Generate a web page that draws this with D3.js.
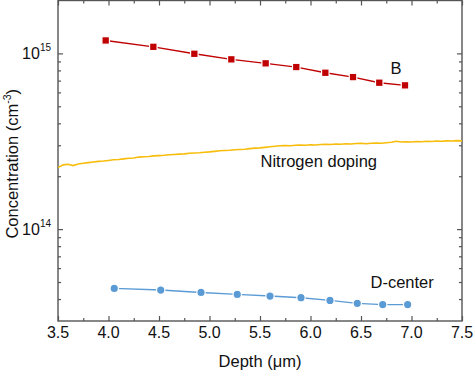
<!DOCTYPE html>
<html>
<head>
<meta charset="utf-8">
<script src="https://cdn.jsdelivr.net/npm/d3@7"></script>
<style>
  html, body { margin: 0; padding: 0; background: #fff; }
  svg { display: block; }
  text { font-family: "Liberation Sans", Arial, sans-serif; fill: #111; }
</style>
</head>
<body>
<svg id="chart" width="474" height="372"></svg>
<script>
// ---- data ----
const bDepth = [3.972, 4.444, 4.85, 5.216, 5.556, 5.859, 6.147, 6.421, 6.681, 6.936];
const bConc  = [1.185e15, 1.09e15, 9.95e14, 9.25e14, 8.78e14, 8.36e14, 7.76e14, 7.33e14, 6.81e14, 6.58e14];

const dDepth = [4.057, 4.517, 4.916, 5.275, 5.599, 5.906, 6.193, 6.463, 6.715, 6.962];
const dConc  = [4.6e13, 4.5e13, 4.36e13, 4.25e13, 4.16e13, 4.07e13, 3.93e13, 3.78e13, 3.72e13, 3.72e13];

const nDepth = [3.50,3.55,3.60,3.65,3.70,3.75,3.80,3.85,3.90,3.95,4.00,4.05,4.10,4.15,4.20,4.25,4.30,4.35,4.40,4.45,
                4.50,4.55,4.60,4.65,4.70,4.75,4.80,4.85,4.90,4.95,5.00,5.05,5.10,5.15,5.20,5.25,5.30,5.35,5.40,5.45,
                5.50,5.55,5.60,5.65,5.70,5.75,5.80,5.85,5.90,5.95,6.00,6.05,6.10,6.15,6.20,6.25,6.30,6.35,6.40,6.45,
                6.50,6.55,6.60,6.65,6.70,6.75,6.80,6.85,6.90,6.95,7.00,7.05,7.10,7.15,7.20,7.25,7.30,7.35,7.40,7.45,7.50];
const nConc  = [2.24,2.32,2.34,2.30,2.35,2.37,2.39,2.41,2.43,2.44,2.46,2.48,2.49,2.51,2.53,2.54,2.57,2.58,2.59,2.61,
                2.62,2.63,2.65,2.66,2.67,2.68,2.70,2.71,2.72,2.74,2.75,2.77,2.79,2.80,2.81,2.83,2.84,2.85,2.87,2.89,
                2.90,2.92,2.94,2.96,2.98,2.99,2.98,3.00,3.01,3.00,3.02,3.01,3.03,3.04,3.03,3.05,3.04,3.06,3.05,3.07,
                3.08,3.06,3.08,3.09,3.08,3.10,3.12,3.16,3.13,3.14,3.13,3.15,3.14,3.16,3.15,3.17,3.16,3.18,3.17,3.19,3.18]
                .map(v => v * 1e14);

const xMajor = [3.5, 4.0, 4.5, 5.0, 5.5, 6.0, 6.5, 7.0, 7.5];
const xMinor = [3.75, 4.25, 4.75, 5.25, 5.75, 6.25, 6.75, 7.25];
const yMajor = [1e14, 1e15];
const yMinor = [4e13, 5e13, 6e13, 7e13, 8e13, 9e13, 2e14, 3e14, 4e14, 5e14, 6e14, 7e14, 8e14, 9e14];
const yExp = { 1e14: "14", 1e15: "15" };

// ---- layout ----
const L = 58, R = 462, T = 0.5, B = 321;
const svg = d3.select("#chart");
const x = d3.scaleLinear().domain([3.5, 7.5]).range([L, R]);
const y = d3.scaleLog().domain([3e13, 2e15]).range([B, T]);

const axisColor = "#555";

svg.append("defs").append("clipPath").attr("id", "clip")
  .append("rect").attr("x", L).attr("y", T).attr("width", R - L).attr("height", B - T);

function styleAxis(g) {
  g.select(".domain").remove();
  g.selectAll(".tick line").attr("stroke", axisColor).attr("stroke-width", 1.2);
  g.selectAll(".tick text").remove();
}

// bottom & top ticks (inward)
svg.append("g").attr("transform", `translate(0,${B})`)
  .call(d3.axisBottom(x).tickValues(xMajor).tickSize(-5)).call(styleAxis);
svg.append("g").attr("transform", `translate(0,${B})`)
  .call(d3.axisBottom(x).tickValues(xMinor).tickSize(-3)).call(styleAxis);
svg.append("g").attr("transform", `translate(0,${T})`)
  .call(d3.axisTop(x).tickValues(xMajor).tickSize(-5)).call(styleAxis);
svg.append("g").attr("transform", `translate(0,${T})`)
  .call(d3.axisTop(x).tickValues(xMinor).tickSize(-3)).call(styleAxis);

// left & right ticks (inward)
svg.append("g").attr("transform", `translate(${L},0)`)
  .call(d3.axisLeft(y).tickValues(yMajor).tickSize(-5)).call(styleAxis);
svg.append("g").attr("transform", `translate(${L},0)`)
  .call(d3.axisLeft(y).tickValues(yMinor).tickSize(-3)).call(styleAxis);
svg.append("g").attr("transform", `translate(${R},0)`)
  .call(d3.axisRight(y).tickValues(yMajor).tickSize(-5)).call(styleAxis);
svg.append("g").attr("transform", `translate(${R},0)`)
  .call(d3.axisRight(y).tickValues(yMinor).tickSize(-3)).call(styleAxis);

// frame
svg.append("rect").attr("x", L).attr("y", T).attr("width", R - L).attr("height", B - T)
  .attr("fill", "none").attr("stroke", axisColor).attr("stroke-width", 1.4);

// x tick labels
svg.append("g").selectAll("text").data(xMajor).join("text")
  .attr("x", d => x(d)).attr("y", B + 17)
  .attr("text-anchor", "middle").attr("font-size", 16)
  .text(d => d.toFixed(1));

// y tick labels 10^n
const yl = svg.append("g").selectAll("text").data(yMajor).join("text")
  .attr("x", L - 7).attr("y", d => y(d) + 6)
  .attr("text-anchor", "end").attr("font-size", 16);
yl.append("tspan").text("10");
yl.append("tspan").attr("font-size", 10).attr("dy", -8).text(d => yExp[d]);

// axis titles
svg.append("text").attr("x", (L + R) / 2).attr("y", 367)
  .attr("text-anchor", "middle").attr("font-size", 16.5)
  .text("Depth (\u03bcm)");

const yt = svg.append("text")
  .attr("transform", `translate(18,${(T + B) / 2 + 3}) rotate(-90)`)
  .attr("text-anchor", "middle").attr("font-size", 16.5);
yt.append("tspan").text("Concentration (cm");
yt.append("tspan").attr("font-size", 10.5).attr("dy", -7).text("-3");
yt.append("tspan").attr("dy", 7).text(")");

// nitrogen line
const plot = svg.append("g").attr("clip-path", "url(#clip)");
const nData = nDepth.map((d, i) => [d, nConc[i]]);
plot.append("path").datum(nData)
  .attr("fill", "none").attr("stroke", "#f7bd0a").attr("stroke-width", 1.6)
  .attr("d", d3.line().x(d => x(d[0])).y(d => y(d[1])));

// B series
const bData = bDepth.map((d, i) => [d, bConc[i]]);
const red = "#c00000";
plot.append("path").datum(bData)
  .attr("fill", "none").attr("stroke", red).attr("stroke-width", 1.4)
  .attr("d", d3.line().x(d => x(d[0])).y(d => y(d[1])));
const sq = 7.5;
plot.append("g").selectAll("rect").data(bData).join("rect")
  .attr("x", d => x(d[0]) - sq / 2).attr("y", d => y(d[1]) - sq / 2)
  .attr("width", sq).attr("height", sq)
  .attr("fill", red).attr("stroke", "#fff").attr("stroke-width", 1.2);

// D-center series
const dData = dDepth.map((d, i) => [d, dConc[i]]);
const blue = "#5b9bd5";
plot.append("path").datum(dData)
  .attr("fill", "none").attr("stroke", blue).attr("stroke-width", 1.4)
  .attr("d", d3.line().x(d => x(d[0])).y(d => y(d[1])));
plot.append("g").selectAll("circle").data(dData).join("circle")
  .attr("cx", d => x(d[0])).attr("cy", d => y(d[1])).attr("r", 4.2)
  .attr("fill", blue).attr("stroke", "#fff").attr("stroke-width", 1.2);

// annotations
svg.append("text").attr("x", 390.5).attr("y", 74).attr("font-size", 16.5).text("B");
svg.append("text").attr("x", 260.5).attr("y", 166.5).attr("font-size", 16.5).text("Nitrogen doping");
svg.append("text").attr("x", 370.5).attr("y", 288).attr("font-size", 16.5).text("D-center");
</script>
</body>
</html>
